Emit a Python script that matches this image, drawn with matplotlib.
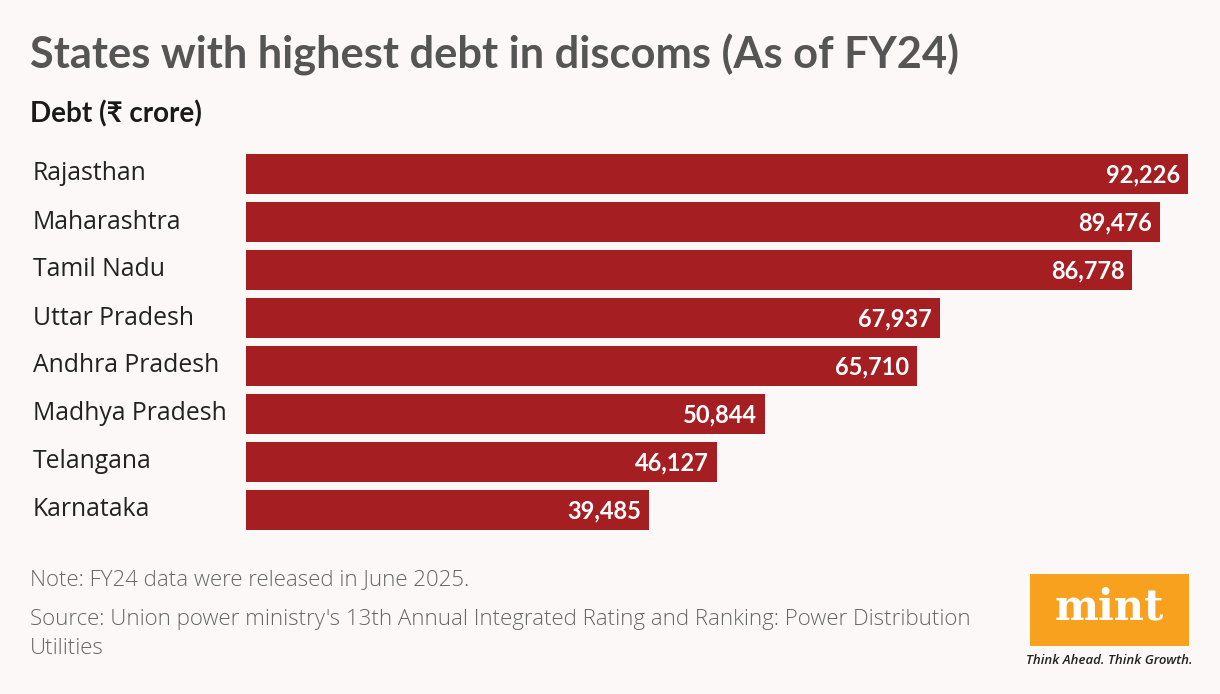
import matplotlib.pyplot as plt
from matplotlib.patches import Rectangle

states = ['Rajasthan', 'Maharashtra', 'Tamil Nadu', 'Uttar Pradesh',
          'Andhra Pradesh', 'Madhya Pradesh', 'Telangana', 'Karnataka']
debt = [92226, 89476, 86778, 67937, 65710, 50844, 46127, 39485]

bg = '#fdf8f8'
bar_color = '#a51e22'
W, H = 1220, 694

fig = plt.figure(figsize=(W / 100, H / 100), dpi=100, facecolor=bg)

# axes placed in pixel coords: left 246, right 1188, top 150, bottom 534
ax = fig.add_axes([246 / W, 1 - 534 / H, (1188 - 246) / W, (534 - 150) / H])
ax.set_facecolor(bg)
ypos = list(range(len(states)))
ax.barh(ypos, debt, height=40 / 48, color=bar_color)
ax.set_xlim(0, max(debt))
ax.set_ylim(len(states) - 0.5, -0.5)
ax.axis('off')

for y, v in zip(ypos, debt):
    ax.text(v - max(debt) * 0.0085, y + 0.02, f'{v:,}', ha='right', va='center',
            color='white', fontsize=17, fontweight='bold', family=['Lato', 'DejaVu Sans'])

for y, s in zip(ypos, states):
    fig.text(33 / W, 1 - (174 + 48 * y) / H, s, ha='left', va='center',
             fontsize=17.8, color='#222222', family=['Open Sans', 'DejaVu Sans'])

fig.text(30 / W, 1 - 55 / H, 'States with highest debt in discoms (As of FY24)',
         ha='left', va='center', fontsize=31.2, fontweight='bold', color='#555555',
         family=['Lato', 'DejaVu Sans'])
fig.text(30 / W, 1 - 114 / H, 'Debt (₹ crore)', ha='left', va='center',
         fontsize=20, fontweight='bold', color='#1a1a1a',
         family=['Lato', 'DejaVu Sans'])

note_kw = dict(ha='left', va='center', fontsize=16, color='#666666',
               family=['Open Sans', 'DejaVu Sans'], fontweight='light')
fig.text(30 / W, 1 - 580 / H, 'Note: FY24 data were released in June 2025.', **note_kw)
fig.text(30 / W, 1 - 620 / H,
         "Source: Union power ministry's 13th Annual Integrated Rating and Ranking: Power Distribution",
         **note_kw)
fig.text(30 / W, 1 - 648 / H, 'Utilities', **note_kw)

# mint logo
fig.patches.append(Rectangle((1030 / W, 1 - 646 / H), 159 / W, 72 / H,
                             transform=fig.transFigure, facecolor='#f7a11f',
                             edgecolor='none'))
fig.text(1109 / W, 1 - 608 / H, 'mint', ha='center', va='center', fontsize=30,
         fontweight='bold', color='white', family=['DejaVu Serif'])
fig.text(1109 / W, 1 - 660 / H, 'Think Ahead. Think Growth.', ha='center', va='center',
         fontsize=9.5, style='italic', fontweight='semibold', color='#222222',
         family=['Open Sans', 'DejaVu Sans'])

fig.savefig('out.png', dpi=100, facecolor=bg)
